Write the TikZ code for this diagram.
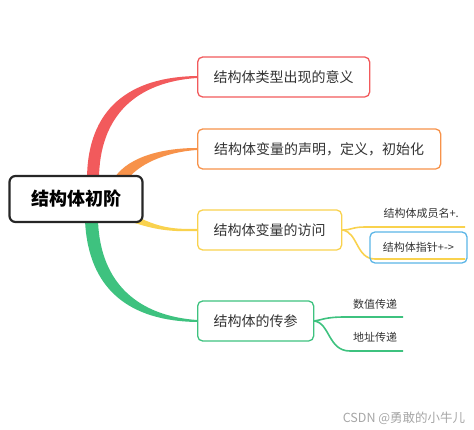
\documentclass[tikz,border=0pt]{standalone}
\usepackage{fontspec}
\setmainfont{Noto Sans CJK SC}
\usepackage{xcolor}
\usetikzlibrary{positioning,calc}

\definecolor{redbr}{HTML}{F25A5C}
\definecolor{orangebr}{HTML}{F7924A}
\definecolor{yellowbr}{HTML}{F9D24E}
\definecolor{greenbr}{HTML}{3EC27F}
\definecolor{bluebr}{HTML}{5BB5E6}
\definecolor{txt}{HTML}{333333}

\tikzset{
    topic/.style={draw=#1, line width=1.3pt, rounded corners=5pt, fill=white,
        text=txt, inner xsep=0pt, minimum height=40pt, anchor=west,
        font=\fontsize{14pt}{16pt}\selectfont},
    subtopic/.style={text=txt, inner sep=0pt, font=\fontsize{11pt}{13pt}\selectfont},
    twig/.style={draw=#1, line width=1.6pt}
}

\begin{document}
\begin{tikzpicture}[x=1pt, y=-1pt]
    \useasboundingbox (0, 0) rectangle (474, 430);
    % branches
    \fill[redbr] (87, 180) .. controls (87, 108) and (130, 77) .. (197, 76)
        -- (197, 78) .. controls (137, 82) and (99, 115) .. (99, 180) -- cycle;
    \fill[orangebr] (112, 182) .. controls (124, 158) and (160, 148) .. (197, 148)
        -- (197, 150) .. controls (165, 152) and (136, 165) .. (126, 182) -- cycle;
    \fill[yellowbr] (132, 214) .. controls (160, 229) and (175, 229) .. (197, 229)
        -- (197, 231) .. controls (172, 232) and (155, 230) .. (132, 222) -- cycle;
    \fill[greenbr] (85, 220) .. controls (88, 290) and (130, 321) .. (197, 322)
        -- (197, 320) .. controls (140, 316) and (100, 285) .. (98, 220) -- cycle;
    % root and topics
    \node[draw=black!85, line width=2.2pt, rounded corners=6pt, fill=white,
        minimum width=133pt, minimum height=46pt,
        font=\fontsize{18pt}{20pt}\selectfont\bfseries] (root) at (76, 199) {结构体初阶};
    \node[topic=redbr, minimum width=172pt] (meaning) at (197, 77) {结构体类型出现的意义};
    \node[topic=orangebr, minimum width=243pt] (define) at (197, 149) {结构体变量的声明，定义，初始化};
    \node[topic=yellowbr, minimum width=144pt] (access) at (197, 230) {结构体变量的访问};
    \node[topic=greenbr, minimum width=116pt] (param) at (197, 321) {结构体的传参};
    % access
    \coordinate (dotend) at (465, 227);
    \coordinate (arrowend) at (465, 259);
    \node[subtopic, anchor=east] (dot) at (459, 213) {结构体成员名+.};
    \draw[twig=yellowbr] (access.east) .. controls (352, 230) and (352, 227) .. (365, 227) -- (dotend);
    \draw[twig=yellowbr] (access.east) .. controls (358, 232) and (356, 259) .. (375, 259) -- (arrowend);
    \node[draw=bluebr, line width=1.3pt, rounded corners=5pt, text=txt,
        minimum width=97pt, minimum height=31pt,
        font=\fontsize{11pt}{13pt}\selectfont] (arrow) at (418.5, 247.5) {结构体指针+->};
    % param
    \coordinate (valend) at (403, 317);
    \coordinate (addrend) at (403, 351);
    \node[subtopic] (val) at (375, 304) {数值传递};
    \node[subtopic] (addr) at (375, 337) {地址传递};
    \draw[twig=greenbr] (param.east) .. controls (322, 320) and (325, 317) .. (345, 317) -- (valend);
    \draw[twig=greenbr] (param.east) .. controls (330, 323) and (328, 351) .. (350, 351) -- (addrend);
    % mark
    \node[text=black!35, font=\fontsize{12.5pt}{14pt}\selectfont] (mark) at (404, 418) {CSDN @勇敢的小牛儿};
\end{tikzpicture}
\end{document}
